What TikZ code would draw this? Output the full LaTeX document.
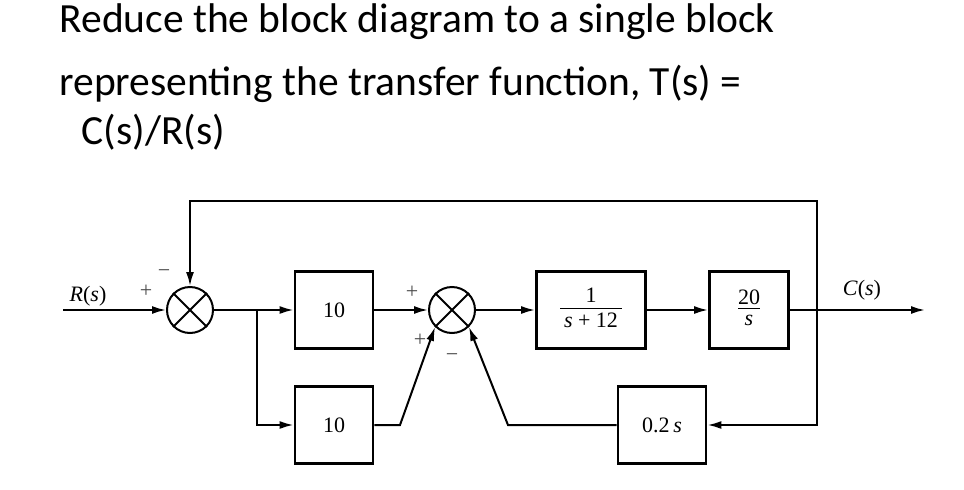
\documentclass[tikz,border=0pt]{standalone}
\usepackage{fontspec}
\setmainfont{Liberation Serif}
\newfontfamily\titlefont{Carlito}
\usetikzlibrary{arrows.meta}
\newcommand{\vs}{\textit{s}}
\begin{document}
\begin{tikzpicture}[x=1pt,y=-1pt,
  blk/.style={draw,line width=2.8pt,minimum width=#1,minimum height=77pt,inner sep=0pt,font=\fontsize{22}{24}\selectfont},
  sumj/.style={draw,line width=2pt,circle,minimum size=46pt,inner sep=0pt},
  ln/.style={line width=2pt},
  ar/.style={line width=2pt,-{Latex[length=14pt,width=8pt]}},
  sg/.style={font=\fontsize{22}{24}\selectfont,text=black!70}]
\useasboundingbox[fill=white] (0,0) rectangle (964,490);
\node[anchor=west,font=\titlefont\fontsize{41.5}{46}\selectfont] (t1) at (56,22) {Reduce the block diagram to a single block};
\node[anchor=west,font=\titlefont\fontsize{41.5}{46}\selectfont] (t2) at (56,84) {representing the transfer function, T(s) =};
\node[anchor=west,font=\titlefont\fontsize{41.5}{46}\selectfont] (t3) at (78,132) {C(s)/R(s)};

\node[sumj] (s1) at (190,310) {};
\draw[line width=2pt] (s1.north west)--(s1.south east) (s1.north east)--(s1.south west);
\node[sumj] (s2) at (452,310) {};
\draw[line width=2pt] (s2.north west)--(s2.south east) (s2.north east)--(s2.south west);
\node[blk=78pt] (b1) at (334,310) {10};
\node[blk=78pt] (b2) at (334,425) {10};
\node[blk=109pt] (g1) at (591,310) {\begin{tabular}{@{\,}c@{\,}}1\\[-2pt]\hline\rule{0pt}{19pt}\vs\ + 12\end{tabular}};
\node[blk=79pt] (g2) at (749,310) {\begin{tabular}{@{}c@{}}20\\[-3pt]\hline\rule{0pt}{17pt}\vs\end{tabular}};
\node[blk=88pt] (h) at (662,425) {0.2\,\vs};

\coordinate (rin) at (63,310);
\coordinate (cout) at (925,310);
\coordinate (br) at (257,310);
\coordinate (tap) at (817,310);
\coordinate (tl) at (190,201);
\coordinate (tr) at (817,201);
\coordinate (hr) at (817,425);
\coordinate (k1) at (400,425);
\coordinate (k2) at (508,425);

\draw[ar] (rin)--(s1);
\draw[ln] (s1)--(br);
\draw[ar] (br)--(b1);
\draw[ar] (br)--(257,425)--(b2);
\draw[ar] (b1)--(s2);
\draw[ar] (b2)--(k1)--(s2.south west);
\draw[ar] (h)--(k2)--(s2.south east);
\draw[ar] (s2)--(g1);
\draw[ar] (g1)--(g2);
\draw[ar] (g2)--(cout);
\draw[ar] (tap)--(tr)--(tl)--(s1);
\draw[ar] (tap)--(hr)--(h);

\node[font=\fontsize{22}{24}\selectfont] (rl) at (88,296) {\textit{R}(\vs)};
\node[font=\fontsize{22}{24}\selectfont] (cl) at (862,290) {\textit{C}(\vs)};
\node[sg] (p1) at (146,291) {+};
\node[sg] (m1) at (164,274) {\textminus};
\node[sg] (p2) at (412,292) {+};
\node[sg] (p3) at (420,340) {+};
\node[sg] (m2) at (452,358) {\textminus};
\end{tikzpicture}
\end{document}
